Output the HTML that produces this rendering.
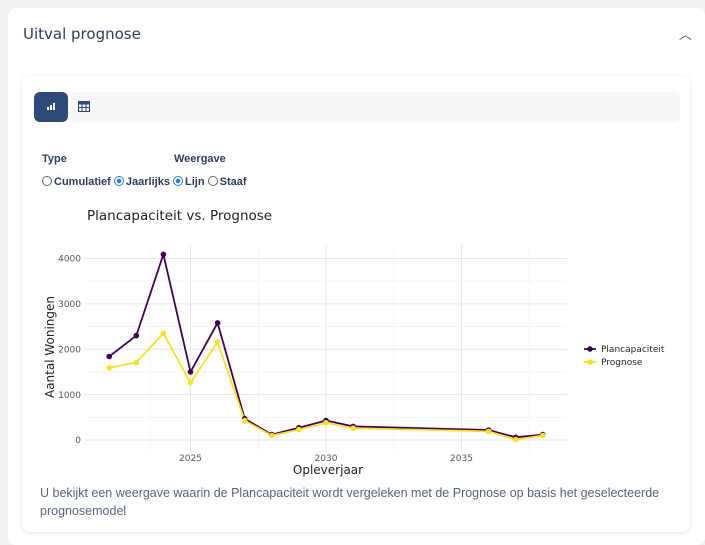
<!DOCTYPE html>
<html><head><meta charset="utf-8"><style>
body{margin:0;width:705px;height:545px;background:#f1f2f4;font-family:"DejaVu Sans","Liberation Sans",sans-serif;overflow:hidden;position:relative}
.card{position:absolute;left:8px;top:8px;width:697px;height:537px;background:#fff;border-radius:8px}
.title{position:absolute;left:23px;top:25px;font-size:15px;color:#2c3e5a}
.chev{position:absolute;left:679px;top:24px;font-size:13px;color:#555}
.inner{position:absolute;left:22px;top:76px;width:668px;height:456px;background:#fff;border-radius:8px;box-shadow:0 1px 4px rgba(0,0,0,.12)}
.tabs{position:absolute;left:34px;top:92px;width:646px;height:30px;background:#f6f7f9;border-radius:6px}
.btn{position:absolute;left:34px;top:92px;width:34px;height:30px;background:#2f4a78;border-radius:6px}
.lab{position:absolute;font-family:"Liberation Sans",sans-serif;font-size:11px;font-weight:bold;color:#2c3e5a;white-space:nowrap}
.r{display:inline-block;width:8px;height:8px;border:1px solid #666;border-radius:50%;vertical-align:-1px;margin-right:2px}
.r.on{border-color:#2a7be4;background:radial-gradient(#2a7be4 35%,#fff 45%)}
.foot{position:absolute;left:40px;top:484px;white-space:nowrap;font-family:"Liberation Sans",sans-serif;font-size:12.5px;color:#55657a;line-height:18px}
</style></head><body>
<div class="card"></div>
<div class="title">Uitval prognose</div>
<div class="chev">︿</div>
<div class="inner"></div>
<div class="tabs"></div>
<div class="btn"><svg width="34" height="30"><rect x="13" y="15" width="2" height="3" fill="#fff"/><rect x="16" y="13" width="2" height="5" fill="#fff"/><rect x="19" y="11" width="2" height="7" fill="#fff"/></svg></div>
<svg style="position:absolute;left:78px;top:101px" width="12" height="11"><rect x="0.5" y="0.5" width="11" height="10" fill="none" stroke="#2f4a78"/><rect x="0.5" y="0.5" width="11" height="3" fill="#2f4a78"/><path d="M0 6.5H12M4 3V11M8 3V11" stroke="#2f4a78"/></svg>
<div class="lab" style="left:42px;top:153px">Type</div>
<div class="lab" style="left:174px;top:153px">Weergave</div>
<div class="lab" style="left:42px;top:176px"><span class="r"></span>Cumulatief <span class="r on"></span>Jaarlijks <span class="r on"></span>Lijn <span class="r"></span>Staaf</div>
<svg style="position:absolute;left:0;top:0" width="705" height="545" font-family="DejaVu Sans,sans-serif">
<text x="87" y="220" font-size="13.5" fill="#222">Plancapaciteit vs. Prognose</text>
<g stroke="#f2f2f2" stroke-width="0.8">
<path d="M85 417.3H567M85 371.9H567M85 326.6H567M85 281.2H567M150 245V452M258.6 245V452M394 245V452M529.5 245V452"/>
</g>
<g stroke="#e6e6e6" stroke-width="1">
<path d="M85 440H567M85 394.6H567M85 349.3H567M85 303.9H567M85 258.5H567M190.5 245V452M326 245V452M461.5 245V452"/>
</g>
<g font-size="9" fill="#555" text-anchor="end">
<text x="81" y="443">0</text><text x="81" y="398">1000</text><text x="81" y="352.5">2000</text><text x="81" y="307">3000</text><text x="81" y="261.5">4000</text>
</g>
<g font-size="9" fill="#555" text-anchor="middle">
<text x="190.5" y="461">2025</text><text x="326" y="461">2030</text><text x="461.5" y="461">2035</text>
</g>
<text x="328" y="474" font-size="12" fill="#222" text-anchor="middle">Opleverjaar</text>
<text transform="translate(54 347) rotate(-90)" font-size="12" fill="#222" text-anchor="middle">Aantal Woningen</text>
<polyline fill="none" stroke="#440154" stroke-width="1.8" points="109.2,356.5 136.3,335.6 163.4,254.4 190.5,371.9 217.6,322.9 244.7,418.7 271.8,434.6 298.9,427.7 326,420.5 353.1,426.4 488.6,430 515.7,437.3 542.8,434.6"/>
<polyline fill="none" stroke="#f5e126" stroke-width="1.8" points="109.2,367.9 136.3,362.4 163.4,333.4 190.5,382.8 217.6,342 244.7,420.5 271.8,435.5 298.9,429.6 326,422.8 353.1,428.2 488.6,431.4 515.7,439.5 542.8,435.5"/>
<g fill="#440154"><circle cx="109.2" cy="356.5" r="2.8"/><circle cx="136.3" cy="335.6" r="2.8"/><circle cx="163.4" cy="254.4" r="2.8"/><circle cx="190.5" cy="371.9" r="2.8"/><circle cx="217.6" cy="322.9" r="2.8"/><circle cx="244.7" cy="418.7" r="2.8"/><circle cx="271.8" cy="434.6" r="2.8"/><circle cx="298.9" cy="427.7" r="2.8"/><circle cx="326" cy="420.5" r="2.8"/><circle cx="353.1" cy="426.4" r="2.8"/><circle cx="488.6" cy="430" r="2.8"/><circle cx="515.7" cy="437.3" r="2.8"/><circle cx="542.8" cy="434.6" r="2.8"/></g>
<g fill="#f5e126"><circle cx="109.2" cy="367.9" r="2.8"/><circle cx="136.3" cy="362.4" r="2.8"/><circle cx="163.4" cy="333.4" r="2.8"/><circle cx="190.5" cy="382.8" r="2.8"/><circle cx="217.6" cy="342" r="2.8"/><circle cx="244.7" cy="420.5" r="2.8"/><circle cx="271.8" cy="435.5" r="2.8"/><circle cx="298.9" cy="429.6" r="2.8"/><circle cx="326" cy="422.8" r="2.8"/><circle cx="353.1" cy="428.2" r="2.8"/><circle cx="488.6" cy="431.4" r="2.8"/><circle cx="515.7" cy="439.5" r="2.8"/><circle cx="542.8" cy="435.5" r="2.8"/></g>
<path d="M584 349H596" stroke="#440154" stroke-width="1.8"/><circle cx="590" cy="349" r="2.8" fill="#440154"/>
<path d="M584 362H596" stroke="#f5e126" stroke-width="1.8"/><circle cx="590" cy="362" r="2.8" fill="#f5e126"/>
<text x="601" y="352" font-size="9" fill="#222">Plancapaciteit</text>
<text x="601" y="365" font-size="9" fill="#222">Prognose</text>
</svg>
<div class="foot">U bekijkt een weergave waarin de Plancapaciteit wordt vergeleken met de Prognose op basis het geselecteerde<br>prognosemodel</div>
</body></html>
